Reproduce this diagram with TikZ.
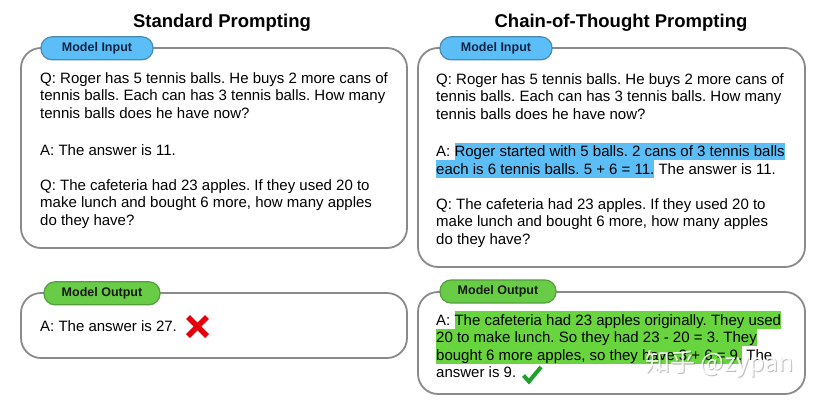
\documentclass[tikz,border=0pt]{standalone}
\usepackage{fontspec}
\setmainfont{Liberation Sans}
\newfontfamily\cjkfont{Noto Sans CJK SC}
\usetikzlibrary{positioning,calc}
\frenchspacing

\definecolor{inblue}{RGB}{92,190,246}
\definecolor{inblueline}{RGB}{72,138,178}
\definecolor{intext}{RGB}{16,36,70}
\definecolor{outgreen}{RGB}{104,204,70}
\definecolor{outgreenline}{RGB}{84,158,62}
\definecolor{hlblue}{RGB}{92,190,246}
\definecolor{hlgreen}{RGB}{104,212,62}
\definecolor{boxgray}{RGB}{138,138,138}
\definecolor{crossred}{RGB}{228,0,12}
\definecolor{tickgreen}{RGB}{34,160,44}

\newcommand{\hlb}[1]{{\setlength{\fboxsep}{0pt}\colorbox{hlblue}{\rule[-3.6pt]{0pt}{17.6pt}#1}}}
\newcommand{\hlg}[1]{{\setlength{\fboxsep}{0pt}\colorbox{hlgreen}{\rule[-3.6pt]{0pt}{17.6pt}#1}}}

\tikzset{
  promptbox/.style={draw=boxgray, line width=1.8pt, rounded corners=20pt},
  pill/.style={rectangle, rounded corners=11pt, line width=1.2pt, minimum height=23pt, inner sep=0pt, font=\bfseries\fontsize{12.5}{14}\selectfont},
  inpill/.style={pill, draw=inblueline, fill=inblue, text=intext, minimum width=112pt},
  outpill/.style={pill, draw=outgreenline, fill=outgreen, text=black!90, minimum width=116pt},
  txt/.style={anchor=base west, inner sep=0pt, font=\fontsize{15}{17.6}\selectfont},
  headline/.style={inner sep=0pt, font=\bfseries\fontsize{18.5}{22}\selectfont},
}

\begin{document}
\begin{tikzpicture}[x=1pt,y=1pt,yscale=-1,xscale=1]
\useasboundingbox (0,0) rectangle (815,402);
\fill[white] (0,0) rectangle (815,402);

% Titles
\node[headline] (stdtitle) at (222,22.5) {Standard Prompting};
\node[headline] (cottitle) at (621,22.5) {Chain-of-Thought Prompting};

%Shape: Rounded Rect - standard input
\draw[promptbox] (21,48) rectangle (407,248);
\node[inpill] (stdin) at (97,48.3) {Model Input};
% Text Node
\node[txt] (sq1) at (40,83) {Q: Roger has 5 tennis balls. He buys 2 more cans of};
\node[txt] (sq2) at (40,100.6) {tennis balls. Each can has 3 tennis balls. How many};
\node[txt] (sq3) at (40,118.2) {tennis balls does he have now?};
\node[txt] (sa1) at (40,155) {A: The answer is 11.};
\node[txt] (sq4) at (40,190) {Q: The cafeteria had 23 apples. If they used 20 to};
\node[txt] (sq5) at (40,207.6) {make lunch and bought 6 more, how many apples};
\node[txt] (sq6) at (40,225.2) {do they have?};

%Shape: Rounded Rect - standard output
\draw[promptbox] (21,293) rectangle (407,358);
\node[outpill] (stdout) at (102,293.3) {Model Output};
% Text Node
\node[txt] (sout) at (40,331.5) {A: The answer is 27.};
% wrong mark
\coordinate (wrong) at (197.5,326.5);
\draw[crossred, line width=5.5pt] ($(wrong)+(-9.5,-9.5)$) -- ($(wrong)+(9.5,9.5)$)
  ($(wrong)+(-9.5,9.5)$) -- ($(wrong)+(9.5,-9.5)$);

%Shape: Rounded Rect - cot input
\draw[promptbox] (418,48) rectangle (805,267);
\node[inpill] (cotin) at (496,48.3) {Model Input};
% Text Node
\node[txt] (cq1) at (436,84) {Q: Roger has 5 tennis balls. He buys 2 more cans of};
\node[txt] (cq2) at (436,101.6) {tennis balls. Each can has 3 tennis balls. How many};
\node[txt] (cq3) at (436,119.2) {tennis balls does he have now?};
\node[txt] (ca1) at (436,156.5) {A: \hlb{Roger started with 5 balls. 2 cans of 3 tennis balls}};
\node[txt] (ca2) at (436,174.1) {\hlb{each is 6 tennis balls. 5 + 6 = 11.} The answer is 11.};
\node[txt] (cq4) at (436,209) {Q: The cafeteria had 23 apples. If they used 20 to};
\node[txt] (cq5) at (436,226.6) {make lunch and bought 6 more, how many apples};
\node[txt] (cq6) at (436,244.2) {do they have?};

%Shape: Rounded Rect - cot output
\draw[promptbox] (418,292) rectangle (805,394);
\node[outpill] (cotout) at (498,291.5) {Model Output};
% Text Node
\node[txt] (co1) at (436,325) {A: \hlg{The cafeteria had 23 apples originally. They used}};
\node[txt] (co2) at (436,342.6) {\hlg{20 to make lunch. So they had 23 - 20 = 3. They}};
\node[txt] (co3) at (436,360.2) {\hlg{bought 6 more apples, so they have 3 + 6 = 9.} The};
\node[txt] (co4) at (436,377.8) {answer is 9.};
% right mark
\coordinate (right) at (531,374);
\draw[tickgreen, line width=4pt] ($(right)+(-7.5,1.5)$) -- ($(right)+(-2,7.5)$) -- ($(right)+(10,-7)$);

% watermark
\node[inner sep=0pt, text=black, opacity=0.25, font=\cjkfont\fontsize{25}{28}\selectfont] (wmshadow) at (720.5,364.5) {知乎 @zypan};
\node[inner sep=0pt, text=white, opacity=0.9, font=\cjkfont\fontsize{25}{28}\selectfont] (wm) at (719.5,363.5) {知乎 @zypan};
\end{tikzpicture}
\end{document}
